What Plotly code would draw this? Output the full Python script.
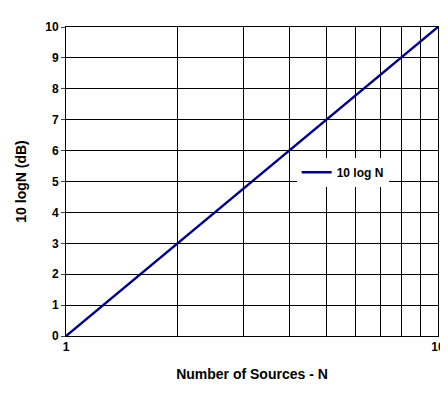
import plotly.graph_objects as go

# number of sources and the level increase
sources = [1, 2, 3, 4, 5, 6, 7, 8, 9, 10]
level_db = [0, 3.01, 4.77, 6.02, 6.99, 7.78, 8.45, 9.03, 9.54, 10]
x_ticks = [1, 10]
y_ticks = [0, 1, 2, 3, 4, 5, 6, 7, 8, 9, 10]

fig = go.Figure()
fig.add_trace(go.Scatter(x=sources, y=level_db, mode="lines", name="10 log N",
                         showlegend=True,
                         line=dict(color="#000080", width=2.5)))

fig.update_layout(
    width=448, height=409,
    margin=dict(l=58, r=18, t=19, b=81),
    paper_bgcolor="white", plot_bgcolor="white",
    font=dict(family="Liberation Sans", size=12, color="black"),
    legend=dict(x=0.62, y=0.53, xanchor="left", yanchor="middle",
                bgcolor="white", font=dict(size=12, weight="bold")),
)
fig.update_xaxes(type="log", range=[0, 1], tickvals=x_ticks,
                 ticktext=[str(v) for v in x_ticks],
                 showgrid=True, gridcolor="black", gridwidth=1,
                 minor=dict(showgrid=True, gridcolor="black", gridwidth=1,
                            dtick="D1", ticks=""),
                 showline=True, linecolor="black", mirror=True,
                 tickfont=dict(weight="bold"),
                 title=dict(text="Number of Sources - N", font=dict(weight="bold")))
fig.update_yaxes(range=[0, 10], tickvals=y_ticks,
                 showgrid=True, gridcolor="black", gridwidth=1,
                 showline=True, linecolor="black", mirror=True, zeroline=False,
                 ticks="outside", ticklen=4, tickfont=dict(weight="bold"),
                 title=dict(text="10 logN (dB)", font=dict(weight="bold")))

fig.write_html("out.html")
